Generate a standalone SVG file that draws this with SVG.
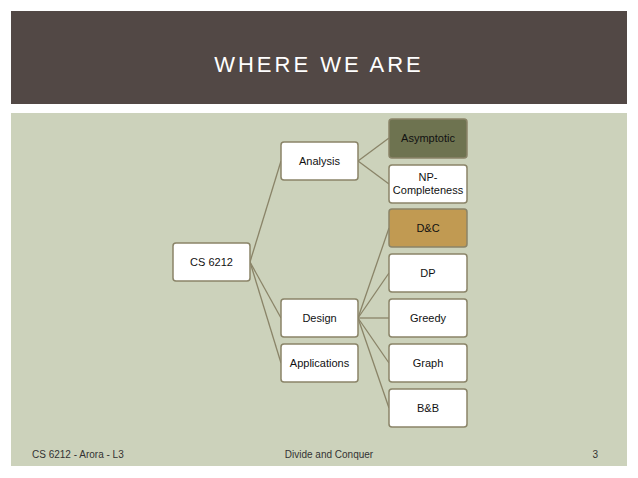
<svg xmlns="http://www.w3.org/2000/svg" width="638" height="478" viewBox="0 0 638 478">
<style>
.n rect{fill:#fff;stroke:#8a8468;stroke-width:1.5}
.n text,.f{font-family:"Liberation Sans",Arial,sans-serif;font-size:11px;fill:#111;text-anchor:middle}
.f{fill:#333;font-size:10px}
#c line{stroke:#8a8468;stroke-width:1.3}
</style>
<rect width="638" height="478" fill="#fff"/>
<rect x="11" y="11" width="616" height="93" fill="#524845"/>
<text x="319" y="72" font-family="'Liberation Sans',Arial,sans-serif" font-size="22" fill="#fff" letter-spacing="3" text-anchor="middle">WHERE WE ARE</text>
<rect x="11" y="113" width="616" height="353" fill="#ccd2bb"/>
<g id="c">
<line x1="250" y1="262" x2="281" y2="161"/>
<line x1="250" y1="262" x2="281" y2="318"/>
<line x1="250" y1="262" x2="281" y2="363"/>
<line x1="358" y1="161" x2="389" y2="138"/>
<line x1="358" y1="161" x2="389" y2="184"/>
<line x1="358" y1="318" x2="389" y2="228"/>
<line x1="358" y1="318" x2="389" y2="273"/>
<line x1="358" y1="318" x2="389" y2="318"/>
<line x1="358" y1="318" x2="389" y2="363"/>
<line x1="358" y1="318" x2="389" y2="408"/>
</g>
<g id="cs" class="n"><rect x="173" y="243" width="77" height="38" rx="3"/><text x="211.5" y="266">CS 6212</text></g>
<g id="analysis" class="n"><rect x="281" y="142" width="77" height="38" rx="3"/><text x="319.5" y="165">Analysis</text></g>
<g id="design" class="n"><rect x="281" y="299" width="77" height="38" rx="3"/><text x="319.5" y="322">Design</text></g>
<g id="applications" class="n"><rect x="281" y="344" width="77" height="38" rx="3"/><text x="319.5" y="367">Applications</text></g>
<g id="asymptotic" class="n"><rect x="389" y="119" width="78" height="39" rx="3" style="fill:#6e7350"/><text x="428" y="142">Asymptotic</text></g>
<g id="np" class="n"><rect x="389" y="165" width="78" height="38" rx="3"/><text x="428" y="181">NP-</text><text x="428" y="194">Completeness</text></g>
<g id="dc" class="n"><rect x="389" y="209" width="78" height="38" rx="3" style="fill:#c19a52"/><text x="428" y="232">D&amp;C</text></g>
<g id="dp" class="n"><rect x="389" y="254" width="78" height="38" rx="3"/><text x="428" y="277">DP</text></g>
<g id="greedy" class="n"><rect x="389" y="299" width="78" height="38" rx="3"/><text x="428" y="322">Greedy</text></g>
<g id="graph" class="n"><rect x="389" y="344" width="78" height="38" rx="3"/><text x="428" y="367">Graph</text></g>
<g id="bb" class="n"><rect x="389" y="389" width="78" height="38" rx="3"/><text x="428" y="412">B&amp;B</text></g>
<text class="f" x="32" y="458" style="text-anchor:start">CS 6212 - Arora - L3</text>
<text class="f" x="329" y="458">Divide and Conquer</text>
<text class="f" x="598" y="458" style="text-anchor:end">3</text>
</svg>
